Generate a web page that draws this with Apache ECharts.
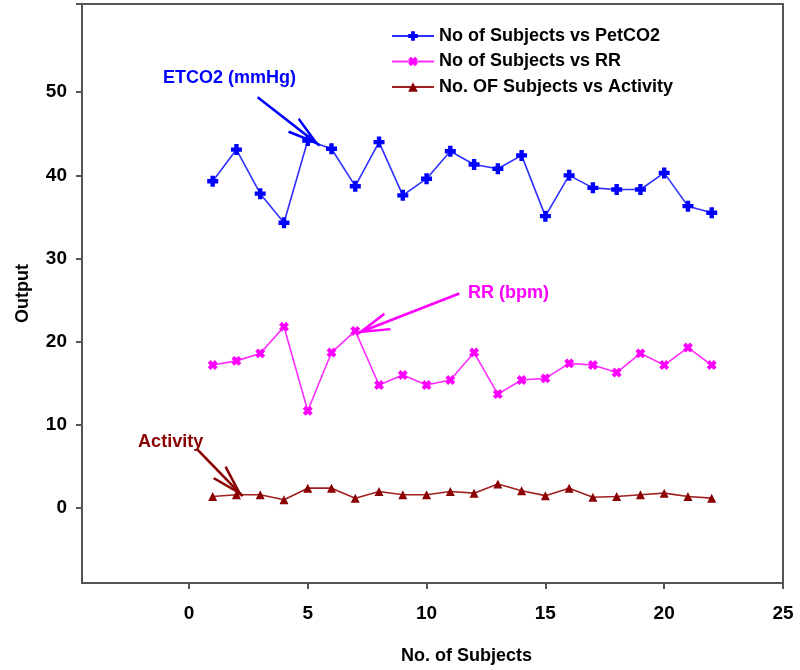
<!DOCTYPE html>
<html>
<head>
<meta charset="utf-8">
<script src="https://cdn.jsdelivr.net/npm/echarts@6/dist/echarts.min.js"></script>
<style>
  html, body { margin: 0; padding: 0; background: #fff; }
  #chart { width: 800px; height: 670px; }
</style>
</head>
<body>
<div id="chart"></div>
<script>
// values
const subjects = [1, 2, 3, 4, 5, 6, 7, 8, 9, 10, 11, 12, 13, 14, 15, 16, 17, 18, 19, 20, 21, 22]
const petco2 = [39.3, 43.1, 37.8, 34.3, 44.2, 43.2, 38.7, 44.0, 37.6, 39.6, 42.9, 41.3, 40.8, 42.4, 35.1, 40.0, 38.5, 38.3, 38.3, 40.3, 36.3, 35.5]
const rr = [17.2, 17.7, 18.6, 21.8, 11.7, 18.7, 21.3, 14.8, 16.0, 14.8, 15.4, 18.7, 13.7, 15.4, 15.6, 17.4, 17.2, 16.3, 18.6, 17.2, 19.3, 17.2]
const activity = [1.4, 1.6, 1.6, 1.0, 2.4, 2.4, 1.2, 2.0, 1.6, 1.6, 2.0, 1.8, 2.9, 2.1, 1.5, 2.4, 1.3, 1.4, 1.6, 1.8, 1.4, 1.2]
const xTicks = [0, 5, 10, 15, 20, 25]
const yTicks = [0, 10, 20, 30, 40, 50]
const seriesNames = ['No of Subjects vs PetCO2', 'No of Subjects vs RR', 'No. OF Subjects vs Activity']

// annotations (data coords): label position, arrow start, arrow end
const noteText = ['ETCO2 (mmHg)', 'RR (bpm)', 'Activity']
const notePos = [[1.71, 51.7], [13.45, 25.8], [-0.77, 7.9]]
const arrowFrom = [[2.89, 49.4], [11.38, 25.8], [0.37, 7.0]]
const arrowTo = [[5.5, 43.6], [7.06, 21.0], [2.26, 1.44]]

const colors = ['#0000ff', '#ff00ff', '#8b0000']
const lineColors = ['#2f2fff', '#ff2cff', '#a02020']
const FONT = 'Liberation Sans, Arial, sans-serif'
const plus = 'path://M3,0 H7 V3 H10 V7 H7 V10 H3 V7 H0 V3 H3 Z'
// open arrow head, tip at the middle of its box so it lands on the line end
const openArrow = 'path://M0,0 L0.01,0 L0,0.01 Z M0,33 L9.5,66 L6.9,66 L0,42 L-6.9,66 L-9.5,66 Z'
const symbols = [plus, plus, 'triangle']
const symbolSizes = [11, 10, 9]
const symbolRotates = [0, 45, 0]
const values = [petco2, rr, activity]

const chart = echarts.init(document.getElementById('chart'))

const series = values.map((vals, k) => ({
  name: seriesNames[k],
  type: 'line',
  data: subjects.map((s, i) => [s, vals[i]]),
  symbol: symbols[k],
  symbolSize: symbolSizes[k],
  symbolRotate: symbolRotates[k],
  showAllSymbol: true,
  itemStyle: { color: colors[k] },
  lineStyle: { color: lineColors[k], width: 1.6 },
  z: 3,
  markLine: {
    silent: true,
    animation: false,
    symbol: ['none', openArrow],
    symbolSize: [19, 66],
    lineStyle: { color: colors[k], width: 2.6, type: 'solid' },
    label: { show: false },
    data: [[{ coord: arrowFrom[k] }, { coord: arrowTo[k] }]],
  },
  markPoint: {
    silent: true,
    animation: false,
    symbol: 'circle',
    symbolSize: 1,
    itemStyle: { color: 'transparent' },
    label: {
      show: true,
      position: 'inside',
      formatter: '{b}',
      color: colors[k],
      fontSize: 18,
      fontWeight: 'bold',
      fontFamily: FONT,
    },
    data: [{ name: noteText[k], coord: notePos[k] }],
  },
}))

chart.setOption({
  animation: false,
  backgroundColor: '#fff',
  grid: {
    left: 82, right: 17, top: 4, bottom: 87,
    show: true,
    borderColor: '#555',
    borderWidth: 2,
  },
  legend: {
    orient: 'vertical',
    left: 386,
    top: 21,
    itemWidth: 42,
    itemHeight: 12,
    itemGap: 5.5,
    textStyle: { fontSize: 18, fontWeight: 'bold', color: '#000', fontFamily: FONT, lineHeight: 20 },
    data: seriesNames,
  },
  xAxis: {
    type: 'value',
    min: -4.5,
    max: 25,
    name: 'No. of Subjects',
    nameLocation: 'middle',
    nameGap: 64,
    nameTextStyle: { fontSize: 18, fontWeight: 'bold', color: '#000', fontFamily: FONT, padding: [0, 0, 0, 68] },
    splitLine: { show: false },
    axisLine: { onZero: false, lineStyle: { color: '#555', width: 2 } },
    axisTick: { inside: false, length: 6, customValues: xTicks, lineStyle: { color: '#555', width: 2 } },
    axisLabel: { customValues: xTicks, margin: 21, fontSize: 19, fontWeight: 'bold', color: '#000', fontFamily: FONT },
  },
  yAxis: {
    type: 'value',
    min: -9,
    max: 60.6,
    name: 'Output',
    nameLocation: 'middle',
    nameGap: 50,
    nameRotate: 90,
    nameTextStyle: { fontSize: 18, fontWeight: 'bold', color: '#000', fontFamily: FONT },
    splitLine: { show: false },
    axisLine: { onZero: false, lineStyle: { color: '#555', width: 2 } },
    axisTick: { inside: false, length: 6, customValues: yTicks.concat([60.6]), lineStyle: { color: '#555', width: 2 } },
    axisLabel: { customValues: yTicks, margin: 15, fontSize: 19, fontWeight: 'bold', color: '#000', fontFamily: FONT },
  },
  series,
})
</script>
</body>
</html>
